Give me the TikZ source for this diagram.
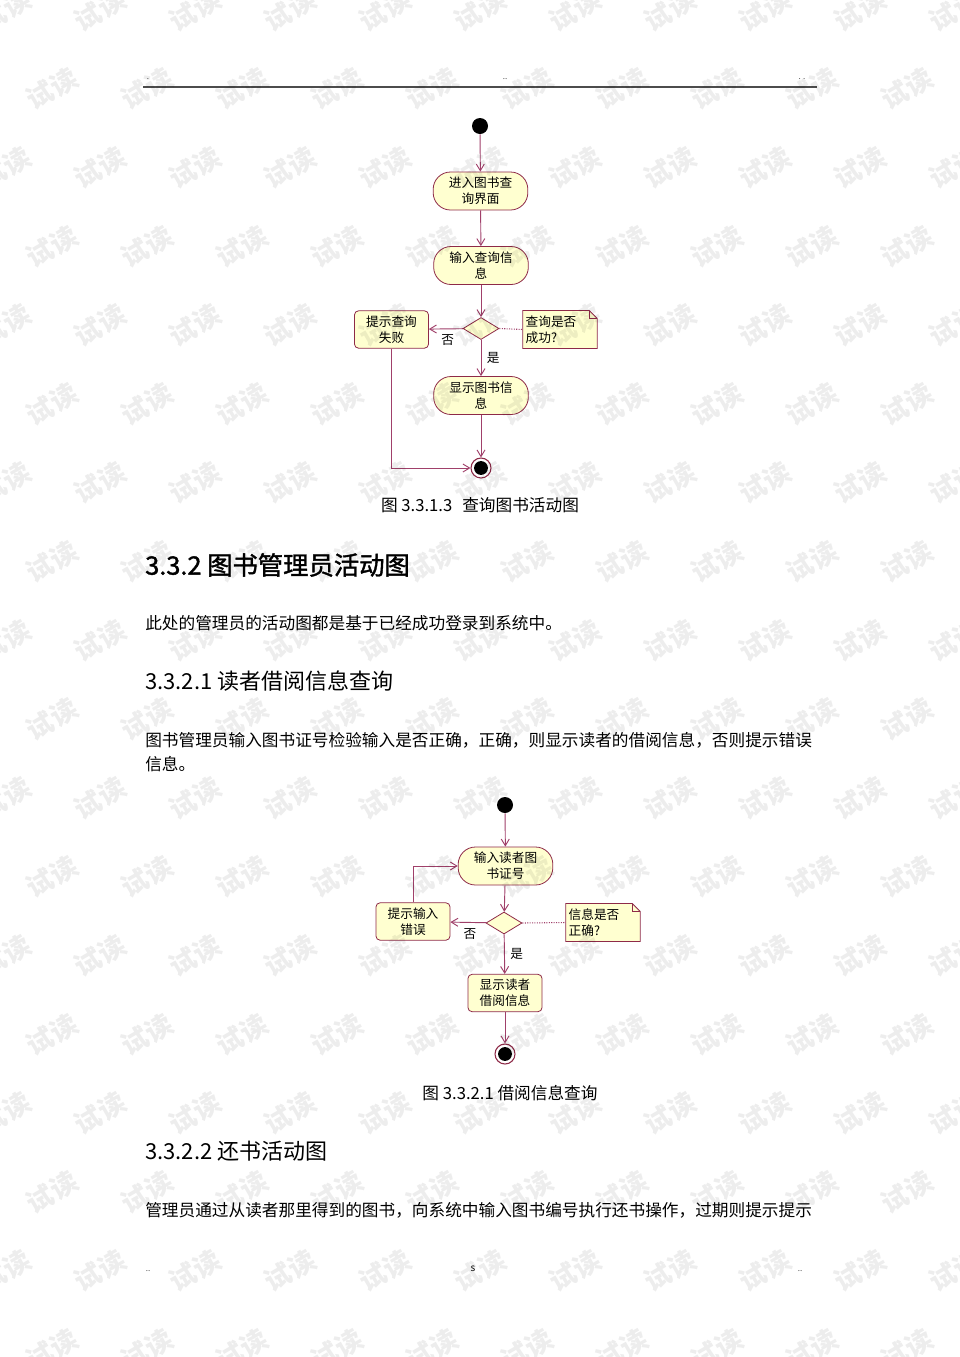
\documentclass[tikz,border=0pt]{standalone}
\usepackage{fontspec}
\setmainfont{Noto Sans CJK SC}
\newfontfamily\headfont[FakeBold=1.5]{Noto Sans CJK SC}
\usetikzlibrary{shapes.geometric,arrows.meta}
\definecolor{lnk}{HTML}{A0406A}
\definecolor{bdr}{HTML}{8E2A48}
\definecolor{fillc}{HTML}{FFFFD0}
\tikzset{
  act/.style={draw=bdr, fill=fillc, line width=0.6pt, rounded corners=13pt, minimum width=71pt, minimum height=28.5pt, inner sep=0pt, align=center, font=\fontsize{9.5}{12}\selectfont},
  actr/.style={act, rounded corners=3pt, minimum width=55.5pt, minimum height=28pt},
  dec/.style={diamond, draw=bdr, fill=fillc, line width=0.6pt, minimum width=27pt, minimum height=16.5pt, inner sep=0pt},
  notebox/.style={fill=fillc, minimum height=28pt, inner sep=2pt, align=left, text width=51.5pt, font=\fontsize{9.5}{12}\selectfont},
  noteline/.style={draw=bdr, line width=0.6pt},
  startnode/.style={circle, fill=black, minimum size=12pt, inner sep=0pt},
  endnode/.style={circle, draw=bdr, fill=white, line width=0.8pt, minimum size=15pt, inner sep=0pt},
  flow/.style={draw=lnk, line width=0.7pt, -{Straight Barb[length=5pt,width=6pt]}},
  noteconn/.style={draw=lnk, line width=0.8pt, densely dotted},
  guard/.style={font=\fontsize{9.5}{10}\selectfont, inner sep=0pt},
  body/.style={anchor=west, inner sep=0pt, font=\fontsize{12.5}{18}\selectfont},
  caption/.style={inner sep=0pt, font=\fontsize{12.5}{15}\selectfont},
  h2/.style={anchor=west, inner sep=0pt, font=\headfont\fontsize{19}{22}\selectfont},
  h3/.style={anchor=west, inner sep=0pt, font=\fontsize{16.5}{20}\selectfont},
  tinymark/.style={inner sep=0pt, font=\fontsize{6}{6}\selectfont, text=black!70},
  wm/.style={inner sep=0pt, rotate=30, text=black, opacity=0.07, font=\bfseries\fontsize{20}{20}\selectfont}
}
\begin{document}
\begin{tikzpicture}[x=0.75pt,y=-0.75pt]
\useasboundingbox[fill=white] (0,0) rectangle (960,1357);

% header / footer
\node[tinymark] (hm1) at (148,79) {.};
\node[tinymark] (hm2) at (505,79) {..};
\node[tinymark] (hm3) at (802,79) {. .};
\coordinate (rl) at (143,87);
\coordinate (rr) at (817,87);
\draw[line width=1.2pt, gray!60!black] (rl) -- (rr);
\node[tinymark] (fm1) at (148,1271) {..};
\node[tinymark, text=black, font=\fontsize{7.5}{7.5}\selectfont] (fm2) at (473,1269) {s};
\node[tinymark] (fm3) at (800,1271) {..};

% ---------- diagram 1 ----------
\node[startnode] (s1) at (480,126) {};
\node[act] (a1) at (480.5,191) {进入图书查\\询界面};
\node[act] (a2) at (481,265.5) {输入查询信\\息};
\node[dec] (d1) at (481,328.5) {};
\node[actr] (f1) at (391.5,329.5) {提示查询\\失败};
\node[notebox] (n1) at (560,329.5) {查询是否\\成功?};
\node[act] (a3) at (481,395.5) {显示图书信\\息};
\node[endnode] (e1) at (481,468) {};
\fill[black] (e1.center) circle (5.2pt);

\fill[white] ([xshift=-6pt]n1.north east) -- (n1.north east) -- ([yshift=-6pt]n1.north east) -- cycle;
\draw[noteline] (n1.north west) -- ([xshift=-6pt]n1.north east) -- ([yshift=-6pt]n1.north east) -- (n1.south east) -- (n1.south west) -- cycle;
\draw[noteline] ([xshift=-6pt]n1.north east) -- ([xshift=-6pt,yshift=-6pt]n1.north east) -- ([yshift=-6pt]n1.north east);

\draw[flow] (s1) -- (a1);
\draw[flow] (a1) -- (a2);
\draw[flow] (a2) -- (d1);
\draw[flow] (d1) -- node[guard, pos=0.45, below=4pt] (g1) {否} (f1);
\draw[flow] (d1) -- node[guard, pos=0.5, right=4pt] (g2) {是} (a3);
\draw[noteconn] (d1.east) -- (n1.west);
\draw[flow] (a3) -- (e1);
\draw[flow] (f1.south) |- (e1.west);

\node[caption] (c1) at (480,505) {图 3.3.1.3\hspace{0.6em}查询图书活动图};

% ---------- text ----------
\node[h2] (t1) at (145,565) {3.3.2 图书管理员活动图};
\node[body] (t2) at (145,623) {此处的管理员的活动图都是基于已经成功登录到系统中。};
\node[h3] (t3) at (145,681) {3.3.2.1 读者借阅信息查询};
\node[body] (t4) at (145,740) {图书管理员输入图书证号检验输入是否正确，正确，则显示读者的借阅信息，否则提示错误};
\node[body] (t5) at (145,764) {信息。};

% ---------- diagram 2 ----------
\node[startnode] (s2) at (505,805) {};
\node[act] (b1) at (505.5,866) {输入读者图\\书证号};
\node[dec] (d2) at (504,923) {};
\node[actr] (f2) at (413,921.5) {提示输入\\错误};
\node[notebox] (n2) at (603,922.5) {信息是否\\正确?};
\node[actr] (b2) at (505,993) {显示读者\\借阅信息};
\node[endnode] (e2) at (505,1054) {};
\fill[black] (e2.center) circle (5.2pt);

\fill[white] ([xshift=-6pt]n2.north east) -- (n2.north east) -- ([yshift=-6pt]n2.north east) -- cycle;
\draw[noteline] (n2.north west) -- ([xshift=-6pt]n2.north east) -- ([yshift=-6pt]n2.north east) -- (n2.south east) -- (n2.south west) -- cycle;
\draw[noteline] ([xshift=-6pt]n2.north east) -- ([xshift=-6pt,yshift=-6pt]n2.north east) -- ([yshift=-6pt]n2.north east);

\draw[flow] (s2) -- (b1);
\draw[flow] (b1) -- (d2);
\draw[flow] (d2) -- node[guard, pos=0.45, below=4pt] (g3) {否} (f2);
\draw[flow] (d2) -- node[guard, pos=0.5, right=4pt] (g4) {是} (b2);
\draw[noteconn] (d2.east) -- (n2.west);
\draw[flow] (b2) -- (e2);
\draw[flow] (f2.north) |- (b1.west);

\node[caption] (c2) at (510,1093) {图 3.3.2.1 借阅信息查询};

\node[h3] (t6) at (145,1151) {3.3.2.2 还书活动图};
\node[body] (t7) at (145,1210) {管理员通过从读者那里得到的图书，向系统中输入图书编号执行还书操作，过期则提示提示};

% ---------- watermark ----------
\foreach \r in {0,...,17}{
  \pgfmathsetmacro{\yy}{10+78.8*\r}
  \pgfmathsetmacro{\xs}{mod(\r,2)==0 ? 100 : 52}
  \foreach \k in {-1,...,9}{
    \node[wm] at ({\xs+95*\k},\yy) {试读};
  }
}
\end{tikzpicture}
\end{document}
